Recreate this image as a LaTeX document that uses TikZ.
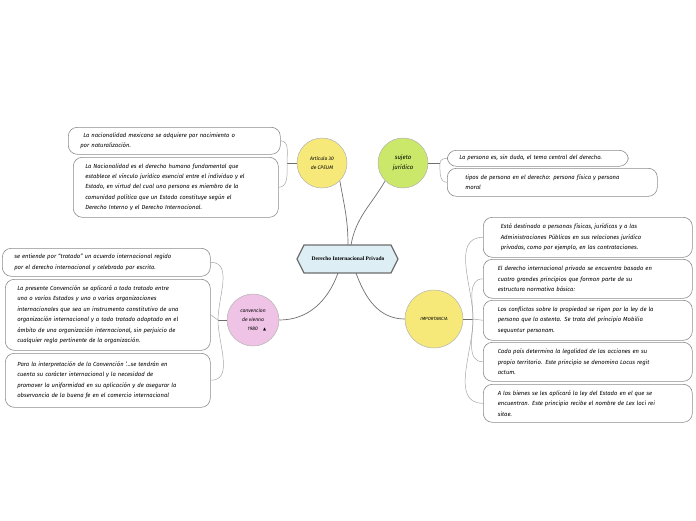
\documentclass[tikz,border=0pt]{standalone}
\usepackage{fontspec}
\setmainfont{Fira Sans}
\newfontfamily\hdfont{Liberation Serif}
\newfontfamily\symfont{DejaVu Sans}
\definecolor{cy}{HTML}{F6E97A}
\definecolor{cg}{HTML}{CBE86B}
\definecolor{cp}{HTML}{EFC3E6}
\definecolor{cb}{HTML}{DDEEF4}
\definecolor{ln}{HTML}{6E6E6E}
\tikzset{x=1pt,y=-1pt,
 tbox/.style={draw=ln!80,line width=0.6pt,rounded corners=9pt,fill=white,inner xsep=12pt,inner ysep=2pt,
   font=\fontsize{5.9}{10.4}\selectfont\itshape,align=left,anchor=north west},
 circ/.style={circle,draw=gray!60,line width=0.5pt,font=\fontsize{5}{9}\selectfont\itshape,align=center},
 conn/.style={draw=ln,line width=0.7pt},
 br/.style={draw=gray!70,line width=0.5pt}}
\begin{document}
\begin{tikzpicture}
\useasboundingbox (0,0) rectangle (696,520);
% central
\draw[ln,line width=1.2pt,fill=cb] (297,259)--(304,245)--(391,245)--(398,259)--(391,273)--(304,273)--cycle;
\node[font=\hdfont\bfseries\fontsize{5.5}{7}\selectfont] (c) at (348,259) {Derecho Internacional Privado};
\coordinate (ct) at (348,245);
\coordinate (ct2) at (351,245);
\coordinate (cb1) at (338,273);
\coordinate (cb2) at (356,273);
% circles
\node[circ,fill=cy,minimum size=50pt] (a) at (322,163) {Art\'iculo 30\\ de CPEUM};
\node[circ,fill=cg,minimum size=50pt,font=\fontsize{6}{10}\selectfont\itshape] (s) at (403,163) {sujeto\\ jur\'idico};
\node[circ,fill=cp,minimum size=52pt] (v) at (253,320) {convencion\\ de vienna\\ \hspace*{8pt}1980 \hspace{4pt}{\symfont\fontsize{4}{5}\selectfont ▲}};
\node[circ,fill=cy,minimum size=58pt,font=\fontsize{4.5}{7}\selectfont\itshape] (i) at (434,319) {IMPORTANCIA};
% central connectors
\draw[conn] (ct) to[out=90,in=-80] (a.south east);
\draw[conn] (ct2) to[out=80,in=-120] (s.south west);
\draw[conn] (cb1) to[out=-110,in=0] (v.east);
\draw[conn] (cb2) to[out=-70,in=180] (i.west);
% boxes
\node[tbox,minimum width=212,minimum height=27,text width=188] (A1) at (68,127) {\hspace*{3pt}La nacionalidad mexicana se adquiere por nacimiento o\\por naturalizaci\'on.};
\node[tbox,minimum width=205,minimum height=60,text width=181] (A2) at (73,157) {La Nacionalidad es el derecho humano fundamental que\\establece el v\'inculo jur\'idico esencial entre el individuo y el\\Estado, en virtud del cual una persona es miembro de la\\comunidad pol\'itica que un Estado constituye seg\'un el\\Derecho Interno y el Derecho Internacional.};
\node[tbox,minimum width=181,minimum height=16,text width=157,inner ysep=1pt] (S1) at (447,150) {La persona es, sin duda, el tema central del derecho.};
\node[tbox,minimum width=210,minimum height=28,text width=180] (S2) at (447,168) {\hspace*{3pt}tipos de persona en el derecho: persona f\'isica y persona\\\hspace*{3pt}moral};
\node[tbox,minimum width=208,minimum height=28,text width=184] (C1) at (2,248) {se entiende por ``tratado'' un acuerdo internacional regido\\por el derecho internacional y celebrado por escrito.};
\node[tbox,minimum width=205,minimum height=71,text width=181] (C2) at (5,279) {La presente Convenci\'on se aplicar\'a a todo tratado entre\\uno o varios Estados y uno o varias organizaciones\\internacionales que sea un instrumento constitutivo de una\\organizaci\'on internacional y a todo tratado adoptado en el\\\'ambito de una organizaci\'on internacional, sin perjuicio de\\cualquier regla pertinente de la organizaci\'on.};
\node[tbox,minimum width=205,minimum height=54,text width=181] (C3) at (5,353) {Para la interpretaci\'on de la Convenci\'on '...se tendr\'an en\\cuenta su car\'acter internacional y la necesidad de\\promover la uniformidad en su aplicaci\'on y de asegurar la\\observancia de la buena fe en el comercio internacional};
\node[tbox,minimum width=209,minimum height=40,text width=180] (I1) at (483,217) {\hspace*{3pt}Est\'a destinado a personas f\'isicas, jur\'idicas y a las\\\hspace*{3pt}Administraciones P\'ublicas en sus relaciones jur\'idico\\\hspace*{3pt}privadas, como por ejemplo, en las contrataciones.};
\node[tbox,minimum width=209,minimum height=39,text width=180] (I2) at (483,259) {El derecho internacional privado se encuentra basado en\\cuatro grandes principios que forman parte de su\\estructura normativa b\'asica:};
\node[tbox,minimum width=209,minimum height=40,text width=180] (I3) at (483,300) {Los conflictos sobre la propiedad se rigen por la ley de la\\persona que la ostenta. Se trata del principio Mobilia\\sequuntur personam.};
\node[tbox,minimum width=209,minimum height=39,text width=180] (I4) at (483,342) {Cada pa\'is determina la legalidad de las acciones en su\\propio territorio. Este principio se denomina Locus regit\\actum.};
\node[tbox,minimum width=209,minimum height=38,text width=180] (I5) at (483,384) {A los bienes se les aplicar\'a la ley del Estado en el que se\\encuentran. Este principio recibe el nombre de Lex loci rei\\sitae.};
% branch connectors
\coordinate (aj) at (287,163);
\coordinate (sj) at (440,163);
\coordinate (vj) at (218,320);
\coordinate (ij) at (473,319);
\draw[conn] (a.west) -- (aj);
\draw[br] (aj) to[out=90,in=0] (A1.east);
\draw[br] (aj) to[out=-90,in=0] (A2.east);
\draw[conn] (s.east) -- (sj);
\draw[br] (sj) to[out=90,in=180] (S1.west);
\draw[br] (sj) to[out=-90,in=180] (S2.west);
\draw[conn] (v.west) -- (vj);
\draw[br] (vj) to[out=90,in=0] (C1.east);
\draw[br] (vj) -- (C2.east);
\draw[br] (vj) to[out=-90,in=0] (C3.east);
\draw[conn] (i.east) -- (ij);
\draw[br] (ij) to[out=90,in=180] (I1.west);
\draw[br] (ij) to[out=90,in=180] (I2.west);
\draw[br] (ij) -- (I3.west);
\draw[br] (ij) to[out=-90,in=180] (I4.west);
\draw[br] (ij) to[out=-90,in=180] (I5.west);
\end{tikzpicture}
\end{document}
